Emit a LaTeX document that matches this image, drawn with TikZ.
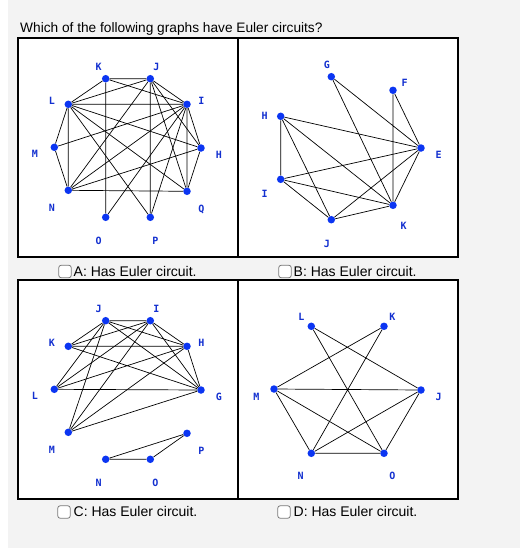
\documentclass[tikz,border=0pt]{standalone}
\usepackage{fontspec}
\setmainfont{Liberation Sans}
\newfontfamily\pixfont{DejaVu Sans Mono}
\usetikzlibrary{positioning}
\definecolor{page}{HTML}{F3F3F3}
\definecolor{dotblue}{HTML}{0B35F2}
\definecolor{lblblue}{HTML}{1330D0}
\definecolor{boxgray}{HTML}{7A7A7A}

\begin{document}
\begin{tikzpicture}[x=1pt,y=-1pt,
  vtx/.style={circle,fill=dotblue,inner sep=0pt,minimum size=7.5pt},
  lbl/.style={font=\pixfont\bfseries\fontsize{10}{10}\selectfont,text=lblblue,inner sep=0pt},
  edge/.style={black,line width=0.7pt},
  panel/.style={draw=black,line width=1.4pt,fill=white},
  chk/.style={draw=boxgray,fill=white,rounded corners=2.5pt,minimum size=12.5pt,inner sep=0pt,line width=0.8pt},
  ans/.style={font=\fontsize{14}{16}\selectfont,inner sep=0pt,anchor=base west}]
  % page and panels
  \fill[white] (0,0) rectangle (530,558);
  \fill[page] (8,0) rectangle (520,548);
  \useasboundingbox (0,0) rectangle (530,558);
  \node[font=\fontsize{13.7}{15}\selectfont,inner sep=0pt,anchor=base west] (title) at (20,32) {Which of the following graphs have Euler circuits?};
  \draw[panel] (18,38) rectangle (238,257);
  \draw[panel] (238,38) rectangle (458,257);
  \draw[panel] (18,280) rectangle (238,499);
  \draw[panel] (238,280) rectangle (458,499);
  % graph A
  \node[vtx] (aK) at (105.7,78.7) {};
  \node[vtx] (aJ) at (150.3,78.7) {};
  \node[vtx] (aL) at (68.3,104.3) {};
  \node[vtx] (aI) at (187,104.3) {};
  \node[vtx] (aM) at (54.3,147.3) {};
  \node[vtx] (aH) at (201,148) {};
  \node[vtx] (aN) at (68.3,190.3) {};
  \node[vtx] (aQ) at (187,191.3) {};
  \node[vtx] (aO) at (105.7,217.3) {};
  \node[vtx] (aP) at (150.3,217.3) {};
  \draw[edge] (aK) -- (aJ) (aK) -- (aL) (aK) -- (aO) (aK) -- (aI);
  \draw[edge] (aJ) -- (aL) (aJ) -- (aN) (aJ) -- (aI) (aJ) -- (aH) (aJ) -- (aQ) (aJ) -- (aP);
  \draw[edge] (aL) -- (aI) (aL) -- (aH) (aL) -- (aQ) (aL) -- (aP) (aL) -- (aN) (aL) -- (aM);
  \draw[edge] (aM) -- (aN) (aM) -- (aI) (aN) -- (aQ) (aN) -- (aI) (aN) -- (aH);
  \draw[edge] (aI) -- (aH) (aI) -- (aQ) (aI) -- (aO) (aI) -- (aP) (aH) -- (aQ);
  \node[lbl] (laK) at (98.7,67.3) {K};
  \node[lbl] (laJ) at (156.3,67.3) {J};
  \node[lbl] (laL) at (52,100.7) {L};
  \node[lbl] (laI) at (201.3,100.7) {I};
  \node[lbl] (laM) at (35,153.5) {M};
  \node[lbl] (laH) at (219,154.7) {H};
  \node[lbl] (laN) at (52,208.3) {N};
  \node[lbl] (laQ) at (201.3,209.3) {Q};
  \node[lbl] (laO) at (98.7,241.3) {O};
  \node[lbl] (laP) at (155.3,241.3) {P};
  % graph B
  \node[vtx] (bG) at (331.3,76.7) {};
  \node[vtx] (bF) at (393,90.3) {};
  \node[vtx] (bH) at (280.7,116.3) {};
  \node[vtx] (bE) at (421,148) {};
  \node[vtx] (bI) at (280.7,179.3) {};
  \node[vtx] (bK) at (393,205.3) {};
  \node[vtx] (bJ) at (331.3,219.7) {};
  \draw[edge] (bG) -- (bE) (bG) -- (bK) (bF) -- (bK) (bF) -- (bE);
  \draw[edge] (bH) -- (bI) (bH) -- (bE) (bH) -- (bK) (bH) -- (bJ);
  \draw[edge] (bI) -- (bE) (bI) -- (bK) (bI) -- (bJ);
  \draw[edge] (bJ) -- (bK) (bJ) -- (bE) (bK) -- (bE);
  \node[lbl] (lbG) at (327,65.3) {G};
  \node[lbl] (lbF) at (404.7,83) {F};
  \node[lbl] (lbH) at (264.7,115.7) {H};
  \node[lbl] (lbE) at (438.7,155.3) {E};
  \node[lbl] (lbI) at (264.7,194) {I};
  \node[lbl] (lbK) at (403.7,226.3) {K};
  \node[lbl] (lbJ) at (327,244) {J};
  % graph C
  \node[vtx] (cJ) at (105.7,320.7) {};
  \node[vtx] (cI) at (150.3,320.7) {};
  \node[vtx] (cK) at (68.3,346.3) {};
  \node[vtx] (cH) at (187,346.3) {};
  \node[vtx] (cL) at (54.3,389.3) {};
  \node[vtx] (cG) at (201,390) {};
  \node[vtx] (cM) at (68.3,432.3) {};
  \node[vtx] (cP) at (187,433.3) {};
  \node[vtx] (cN) at (105.7,459.3) {};
  \node[vtx] (cO) at (150.3,459.3) {};
  \draw[edge] (cJ) -- (cI) (cJ) -- (cK) (cJ) -- (cH) (cJ) -- (cG) (cJ) -- (cL) (cJ) -- (cM);
  \draw[edge] (cI) -- (cK) (cI) -- (cH) (cI) -- (cG) (cI) -- (cL) (cI) -- (cM);
  \draw[edge] (cK) -- (cH) (cK) -- (cG) (cH) -- (cL) (cH) -- (cM) (cH) -- (cG);
  \draw[edge] (cL) -- (cG) (cM) -- (cG);
  \draw[edge] (cN) -- (cO) (cN) -- (cP) (cO) -- (cP);
  \node[lbl] (lcJ) at (98.7,309.3) {J};
  \node[lbl] (lcI) at (156.3,309.3) {I};
  \node[lbl] (lcK) at (52,342.7) {K};
  \node[lbl] (lcH) at (201.3,342.7) {H};
  \node[lbl] (lcL) at (35,395.5) {L};
  \node[lbl] (lcG) at (219,396.7) {G};
  \node[lbl] (lcM) at (52,450.3) {M};
  \node[lbl] (lcP) at (201.3,451.3) {P};
  \node[lbl] (lcN) at (98.7,483.3) {N};
  \node[lbl] (lcO) at (155.3,483.3) {O};
  % graph D
  \node[vtx] (dL) at (311.3,326.3) {};
  \node[vtx] (dK) at (384,326.3) {};
  \node[vtx] (dM) at (274,389) {};
  \node[vtx] (dJ) at (421,390) {};
  \node[vtx] (dN) at (311.3,453.3) {};
  \node[vtx] (dO) at (384,453.3) {};
  \draw[edge] (dL) -- (dJ) (dL) -- (dO) (dK) -- (dM) (dK) -- (dN);
  \draw[edge] (dM) -- (dJ) (dM) -- (dN) (dM) -- (dO);
  \draw[edge] (dJ) -- (dN) (dJ) -- (dO) (dN) -- (dO);
  \node[lbl] (ldL) at (301.3,316.7) {L};
  \node[lbl] (ldK) at (392.3,316.7) {K};
  \node[lbl] (ldM) at (256.3,396.7) {M};
  \node[lbl] (ldJ) at (438.7,396.7) {J};
  \node[lbl] (ldN) at (300.7,476) {N};
  \node[lbl] (ldO) at (392.3,476) {O};
  % answers
  \node[chk] (boxA) at (65,271.5) {};
  \node[ans] (ansA) at (73.5,276.3) {A: Has Euler circuit.};
  \node[chk] (boxB) at (285,271.5) {};
  \node[ans] (ansB) at (293.5,276.3) {B: Has Euler circuit.};
  \node[chk] (boxC) at (64,512) {};
  \node[ans] (ansC) at (73.5,516.5) {C: Has Euler circuit.};
  \node[chk] (boxD) at (284,512) {};
  \node[ans] (ansD) at (293.5,516.5) {D: Has Euler circuit.};
\end{tikzpicture}
\end{document}
